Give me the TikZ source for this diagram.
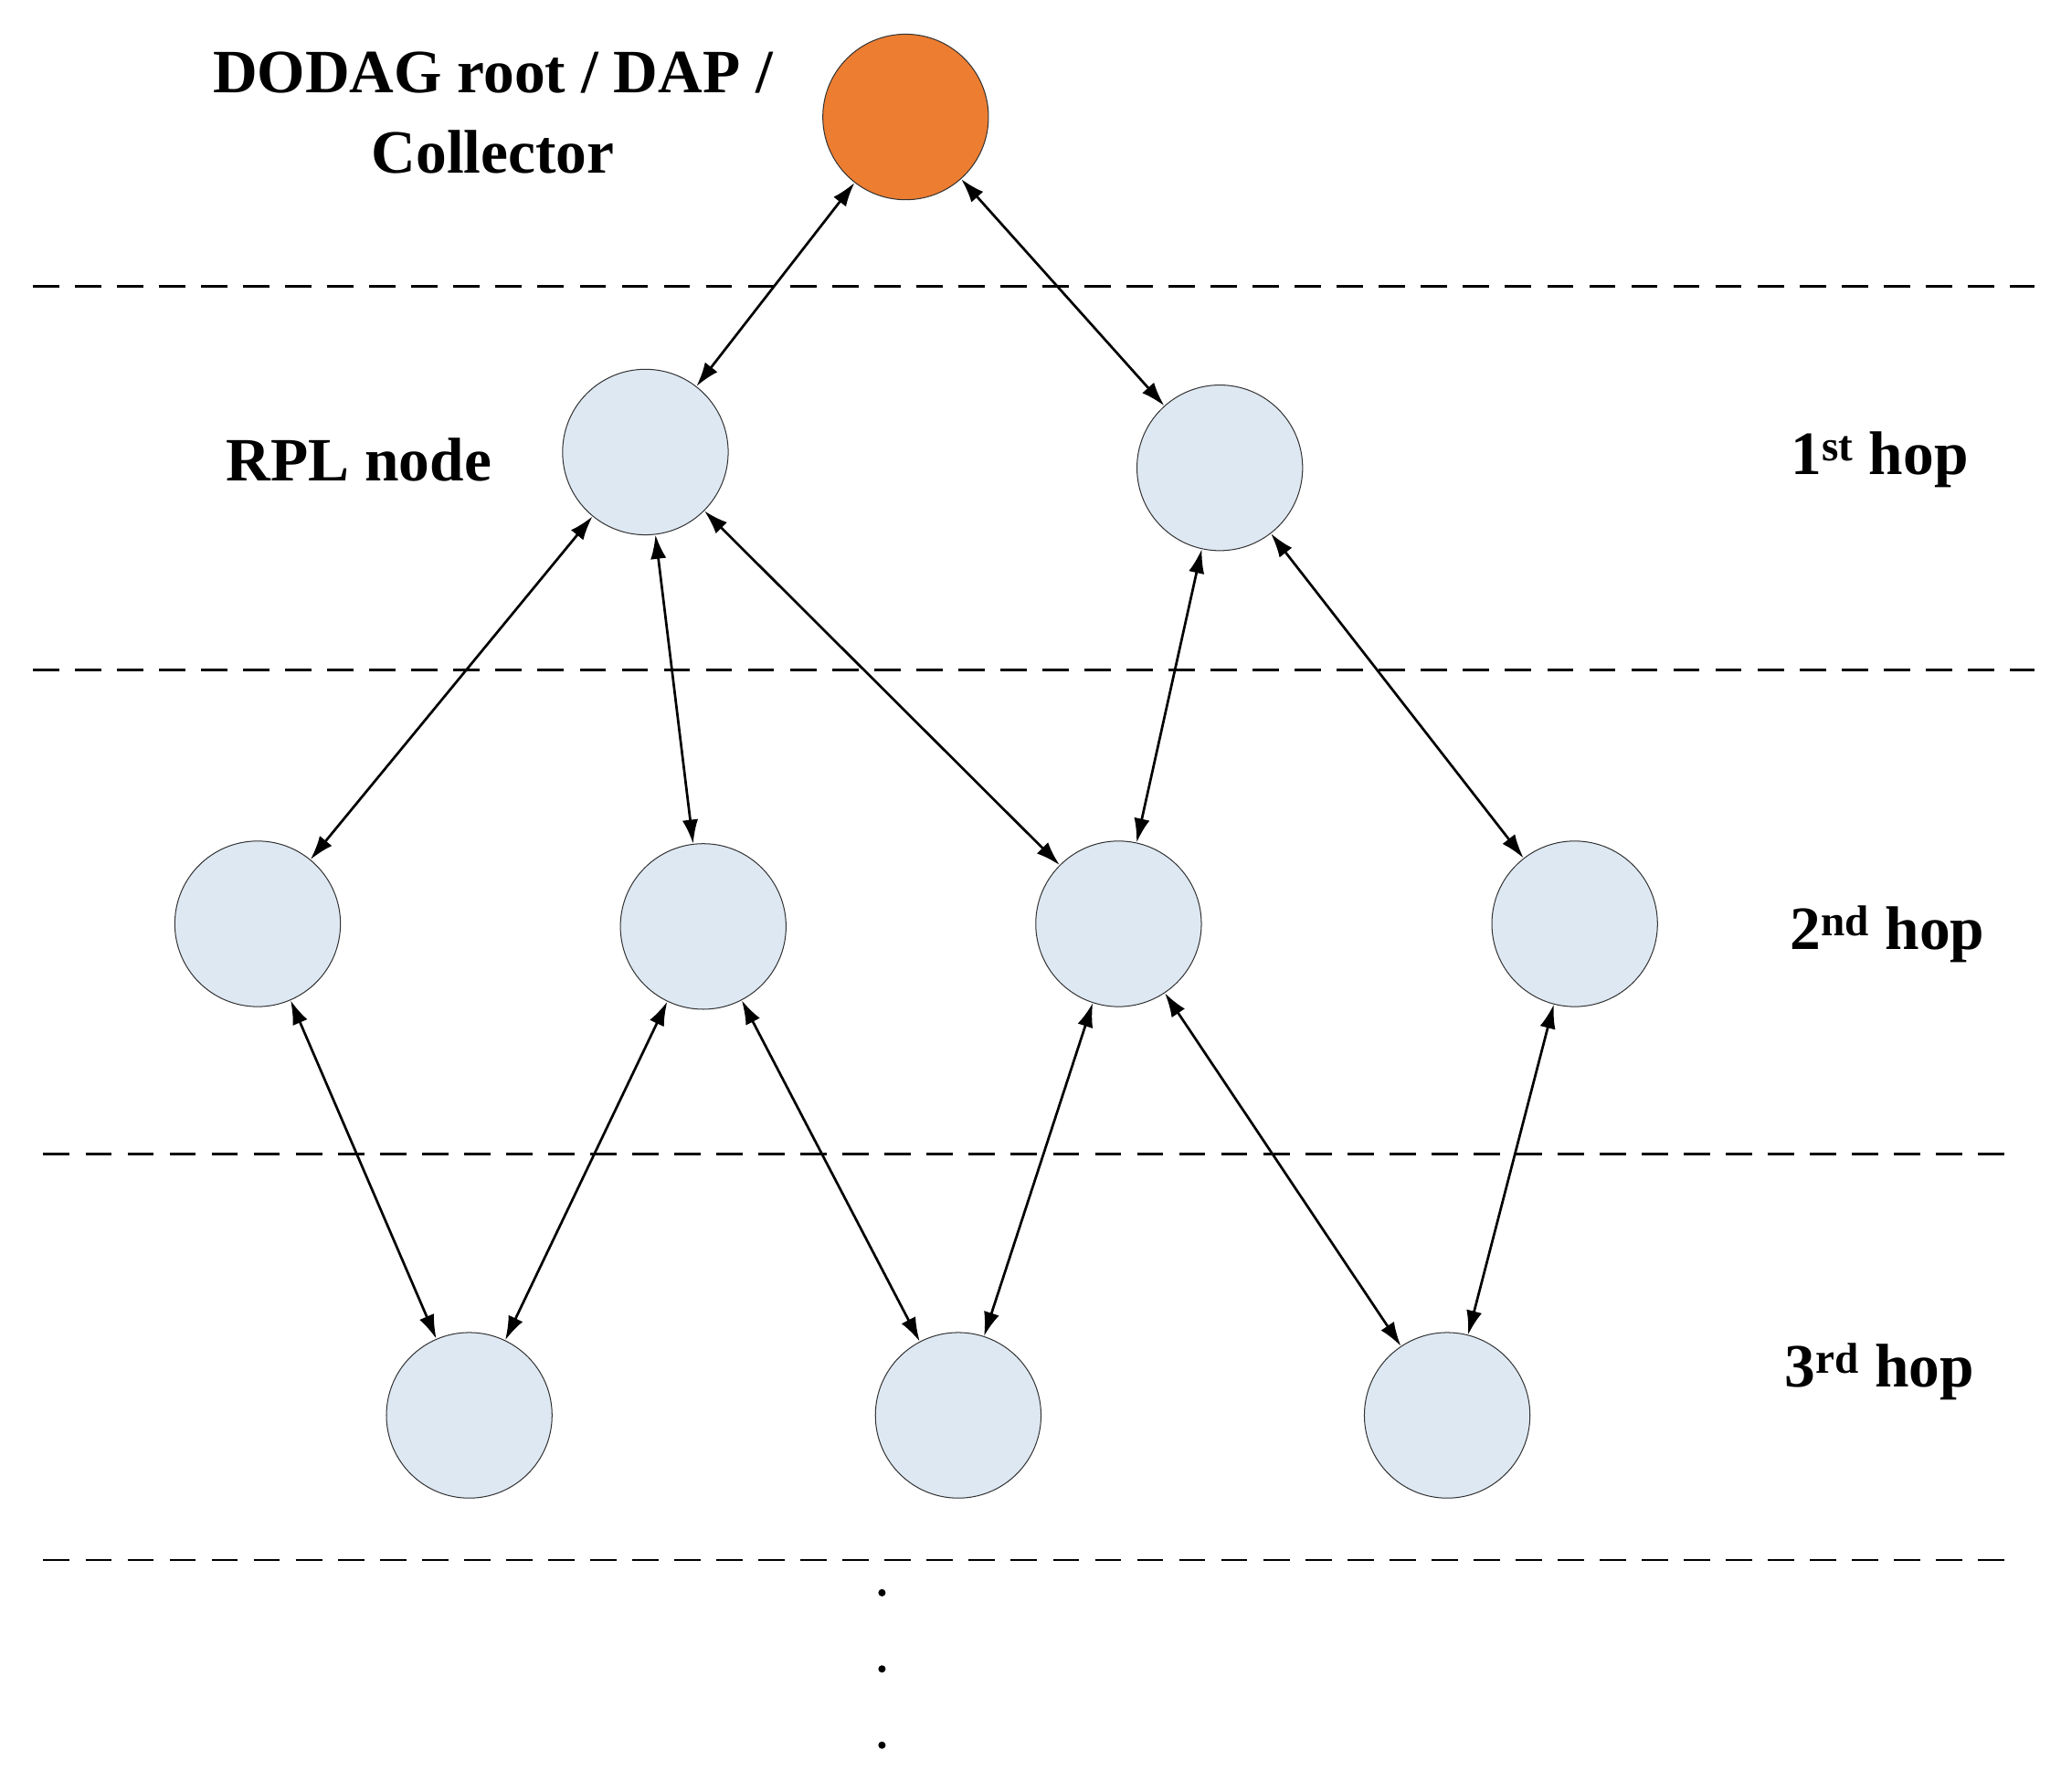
\documentclass[tikz,border=0pt]{standalone}
\usepackage{fontspec}
\setmainfont{Liberation Serif}
\usetikzlibrary{arrows.meta}
\definecolor{nodefill}{RGB}{222,232,243}
\definecolor{rootfill}{RGB}{237,125,49}
\begin{document}
\begin{tikzpicture}[x=0.03cm,y=-0.03cm,
  >={Latex[length=5.5mm,width=3.6mm]},
  nd/.style={circle,draw=black!80,line width=0.6pt,fill=nodefill,minimum size=3.78cm,inner sep=0pt},
  root/.style={nd,fill=rootfill},
  lk/.style={line width=1.6pt,<->},
  hl/.style={dash pattern=on 0.6cm off 0.36cm,line width=1.6pt},
  lb/.style={font=\fontsize{40}{52}\selectfont\bfseries,align=center}]
\useasboundingbox (0,0) rectangle (1568,1363);
\node[root] (r) at (689,89) {};
\node[nd] (a1) at (491,344) {};
\node[nd] (a2) at (928,356) {};
\node[nd] (b1) at (196,703) {};
\node[nd] (b2) at (535,705) {};
\node[nd] (b3) at (851,703) {};
\node[nd] (b4) at (1198,703) {};
\node[nd] (c1) at (357,1077) {};
\node[nd] (c2) at (729,1077) {};
\node[nd] (c3) at (1101,1077) {};
\draw[hl] (25,218) -- (1548,218);
\draw[hl,line width=2pt] (25,510) -- (1548,510);
\draw[hl] (33,878) -- (1525,878);
\draw[hl] (33,1187) -- (1525,1187);
\foreach \u/\v in {r/a1,r/a2,a1/b1,a1/b2,a1/b3,a2/b3,a2/b4,b1/c1,b2/c1,b2/c2,b3/c2,b3/c3,b4/c3}
  \draw[lk] (\u) -- (\v);
\foreach \y/\n in {1212/d1,1270/d2,1328/d3} \fill (671,\y) circle (2.8) coordinate (\n);
\node[lb] (t1) at (375,86) {DODAG root / DAP /\\Collector};
\node[lb] (t2) at (273,350) {RPL node};
\node[lb] (t3) at (1430,350) {1\textsuperscript{st} hop};
\node[lb] (t4) at (1436,711) {2\textsuperscript{nd} hop};
\node[lb] (t5) at (1430,1044) {3\textsuperscript{rd} hop};
\end{tikzpicture}
\end{document}
